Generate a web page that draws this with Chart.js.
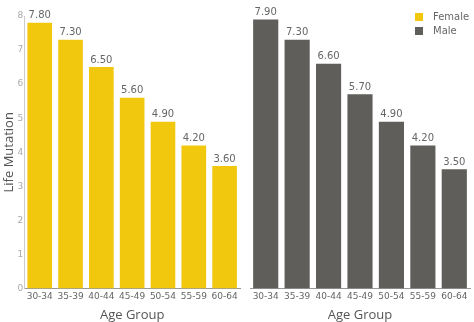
<!DOCTYPE html>
<html>
<head>
<meta charset="utf-8">
<script src="https://cdn.jsdelivr.net/npm/chart.js@4"></script>
<style>
  html, body { margin: 0; padding: 0; background: #fff; }
  #wrap { position: relative; width: 474px; height: 322px; }
  #left { position: absolute; left: 0; top: 0; }
  #right { position: absolute; left: 244px; top: 0; }
</style>
</head>
<body>
<div id="wrap">
  <canvas id="left" width="244" height="322"></canvas>
  <canvas id="right" width="230" height="322"></canvas>
</div>
<script>
let ageGroups = ['30-34', '35-39', '40-44', '45-49', '50-54', '55-59', '60-64'];
let female = [7.8, 7.3, 6.5, 5.6, 4.9, 4.2, 3.6];
let male = [7.9, 7.3, 6.6, 5.7, 4.9, 4.2, 3.5];
let yTicks = [0, 1, 2, 3, 4, 5, 6, 7, 8];
let legendNames = ['Female', 'Male'];

let yellow = '#F2C80F';
let grey = '#605E5A';
let font = '"DejaVu Sans", Verdana, sans-serif';

// values above the bars
let valueLabels = {
	id: 'valueLabels',
	afterDatasetsDraw(chart){
		let ctx = chart.ctx;
		ctx.save();
		ctx.font = '10px ' + font;
		ctx.fillStyle = '#666';
		ctx.textAlign = 'center';
		ctx.textBaseline = 'bottom';
		chart.getDatasetMeta(0).data.forEach((bar, i) => {
			let v = chart.data.datasets[0].data[i];
			ctx.fillText(v.toFixed(2), bar.x, bar.y - 2);
		});
		ctx.restore();
	}
};

// legend in the top right corner of the right panel
let cornerLegend = {
	id: 'cornerLegend',
	afterDraw(chart){
		let ctx = chart.ctx;
		let colors = [yellow, grey];
		let x = chart.chartArea.right - 55;
		ctx.save();
		ctx.font = '10px ' + font;
		ctx.textBaseline = 'middle';
		legendNames.forEach((name, i) => {
			let y = 17 + i * 14;
			ctx.fillStyle = colors[i];
			ctx.fillRect(x, y - 4, 8, 8);
			ctx.fillStyle = '#666';
			ctx.fillText(name, x + 18, y);
		});
		ctx.restore();
	}
};

function xScale(){
	return {
		grid: { display: false, drawTicks: false },
		border: { display: true, color: '#999' },
		ticks: { color: '#666', font: { family: font, size: 9 }, padding: 3, maxRotation: 0 },
		title: { display: true, text: 'Age Group', color: '#555', font: { family: 'Open Sans, sans-serif', size: 13 }, padding: { top: 2, bottom: -1 } }
	};
}

new Chart(document.getElementById('left'), {
	type: 'bar',
	data: {
		labels: ageGroups,
		datasets: [{ label: 'Female', data: female, backgroundColor: yellow, barPercentage: 0.8, categoryPercentage: 1 }]
	},
	options: {
		responsive: false,
		animation: false,
		layout: { padding: { top: 16, right: 4, bottom: 0, left: 1 } },
		plugins: { legend: { display: false }, tooltip: { enabled: false } },
		scales: {
			x: xScale(),
			y: {
				min: 0, max: 8,
				afterBuildTicks: axis => { axis.ticks = yTicks.map(v => ({ value: v })); },
				grid: { display: false, drawTicks: false },
				border: { display: true, color: '#ccc' },
				ticks: { color: '#aaa', font: { family: font, size: 9 }, padding: 1 },
				title: { display: true, text: 'Life Mutation', color: '#555', font: { family: 'Open Sans, sans-serif', size: 13 }, padding: 0 }
			}
		}
	},
	plugins: [valueLabels]
});

new Chart(document.getElementById('right'), {
	type: 'bar',
	data: {
		labels: ageGroups,
		datasets: [{ label: 'Male', data: male, backgroundColor: grey, barPercentage: 0.8, categoryPercentage: 1 }]
	},
	options: {
		responsive: false,
		animation: false,
		layout: { padding: { top: 16, right: 4, bottom: 0, left: 6 } },
		plugins: { legend: { display: false }, tooltip: { enabled: false } },
		scales: {
			x: xScale(),
			y: { display: false, min: 0, max: 8 }
		}
	},
	plugins: [valueLabels, cornerLegend]
});
</script>
</body>
</html>
